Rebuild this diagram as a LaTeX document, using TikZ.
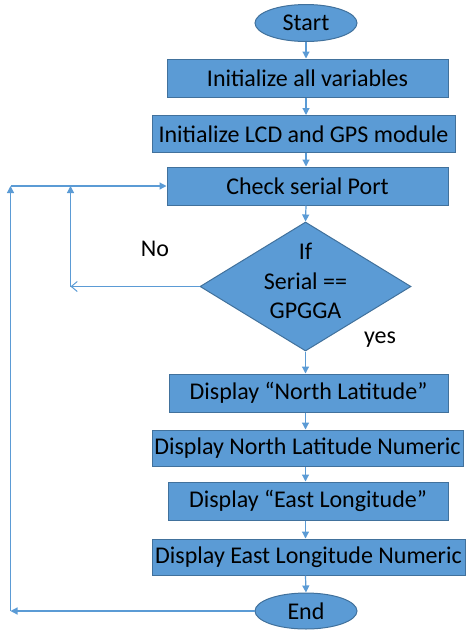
\documentclass[tikz,border=0pt]{standalone}
\usepackage{fontspec}
\setmainfont{Carlito}
\usetikzlibrary{shapes.geometric,arrows.meta}
\definecolor{boxfill}{HTML}{5B9BD5}
\definecolor{boxline}{HTML}{41719C}
\definecolor{arr}{HTML}{5B9BD5}
\begin{document}
\begin{tikzpicture}[x=1pt,y=-1pt,
  every node/.style={font=\fontsize{24}{29.5}\selectfont, text=black},
  procbox/.style={rectangle, draw=boxline, fill=boxfill, line width=1pt, inner sep=0pt},
  termnode/.style={ellipse, draw=boxline, fill=boxfill, line width=1pt, inner sep=0pt, minimum width=102pt, minimum height=37pt},
  conn/.style={draw=arr, line width=1.2pt, -{Triangle[length=7pt,width=7pt]}},
  plainline/.style={draw=arr, line width=1.2pt}
]
\useasboundingbox (0,0) rectangle (472,638);

\node[termnode] (start) at (306,23) {Start};
\node[procbox, minimum width=281pt, minimum height=38pt] (init1) at (307.5,78) {Initialize all variables};
\node[procbox, minimum width=303pt, minimum height=37pt] (init2) at (303.5,134) {Initialize LCD and GPS module};
\node[procbox, minimum width=281pt, minimum height=38pt] (check) at (307.5,186) {Check serial Port};
\node[diamond, draw=boxline, fill=boxfill, line width=1pt, inner sep=0pt, minimum width=211pt, minimum height=129pt] (dec) at (305.5,286.5) {};
\node[align=center] (dectext) at (305.5,281) {If\\Serial ==\\GPGGA};
\node[procbox, minimum width=279pt, minimum height=38pt] (d1) at (308.5,393) {Display “North Latitude”};
\node[procbox, minimum width=311pt, minimum height=36pt] (d2) at (307.5,448) {Display North Latitude Numeric};
\node[procbox, minimum width=280pt, minimum height=38pt] (d3) at (308,501) {Display “East Longitude”};
\node[procbox, minimum width=313pt, minimum height=36pt] (d4) at (308.5,557) {Display East Longitude Numeric};
\node[termnode, minimum height=36pt] (end) at (306,611) {End};

\node (no) at (155,249) {No};
\node (yes) at (380,340) {yes};

\coordinate (nocorner) at (dec.west -| 70.5,0);
\coordinate (notop) at (check.west -| 70.5,0);
\coordinate (endcorner) at (end.west -| 10.5,0);
\coordinate (looptop) at (check.west -| 10.5,0);

\draw[conn] (start.south) -- (start.south |- init1.north);
\draw[conn] (start.south |- init1.south) -- (start.south |- init2.north);
\draw[conn] (start.south |- init2.south) -- (start.south |- check.north);
\draw[conn] (start.south |- check.south) -- (dec.north);
\draw[conn] (dec.south) -- (dec.south |- d1.north);
\draw[conn] (dec.south |- d1.south) -- (dec.south |- d2.north);
\draw[conn] (dec.south |- d2.south) -- (dec.south |- d3.north);
\draw[conn] (dec.south |- d3.south) -- (dec.south |- d4.north);
\draw[conn] (dec.south |- d4.south) -- (end.north);

\draw[plainline, -{Straight Barb[length=6pt,width=10pt,line width=1pt]}] (dec.west) -- (nocorner);
\draw[conn] (nocorner) -- (notop);
\draw[conn] (end.west) -- (endcorner);
\draw[conn] (endcorner) -- (looptop);
\draw[conn] (looptop) -- (check.west);
\end{tikzpicture}
\end{document}
